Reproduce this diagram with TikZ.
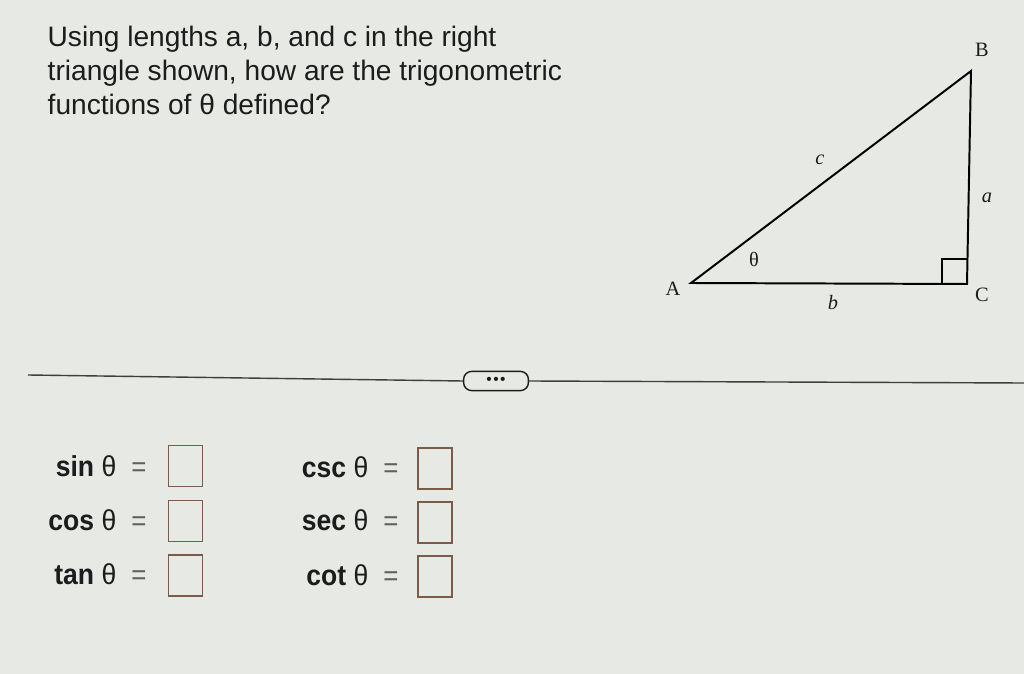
\documentclass[tikz,border=0pt]{standalone}
\usepackage{fontspec}
\usetikzlibrary{calc}
\setmainfont{Liberation Sans}
\newfontfamily\trifont{Liberation Serif}
\newfontfamily\eqfont[FakeStretch=0.92]{Liberation Sans}
\definecolor{paper}{RGB}{231,233,229}
\definecolor{ink}{RGB}{28,28,28}
\definecolor{boxline}{RGB}{122,92,72}

\tikzset{%
  every node/.style={
    inner sep=1pt, text=ink
  },
  question/.style={anchor=base west, font=\fontsize{20}{24}\selectfont},
  trilabel/.style={font=\trifont\fontsize{14.5}{17}\selectfont},
  fnlabel/.style={anchor=base east, font=\eqfont\fontsize{20.5}{24}\selectfont},
  eqsign/.style={anchor=base, font=\eqfont\fontsize{20}{24}\selectfont, text=ink!70},
  ansbox/.style={draw=boxline, line width=1pt, minimum width=0.85cm, minimum height=1.03cm},
  pill/.style={draw=ink, line width=1pt, rounded corners=0.2cm, minimum width=1.62cm,
    minimum height=0.48cm, inner sep=0pt, font=\fontsize{11}{11}\selectfont}
}

\begin{document}
\begin{tikzpicture}[x=0.025cm, y=-0.025cm]
        \fill[paper] (0,0) rectangle (1024,674);
        \useasboundingbox (0,0) rectangle (1024,674);
        % question
        \node[question] at (46,47) (q1) {Using lengths a, b, and c in the right};
        \node[question] at (46,81) (q2) {triangle shown, how are the trigonometric};
        \node[question] at (46,115) (q3) {functions of θ defined?};
        % triangle
        \coordinate (A) at (691,283);
        \coordinate (B) at (971,71);
        \coordinate (C) at (967,284);
        \draw[line width=1.4pt, line join=miter] (A) -- (C) -- (B) -- cycle;
        \draw[line width=1.1pt] ($(C)+(-25,0)$) |- ($(C)+(0,-25)$);
        \node[trilabel] at (673,289) (lA) {A};
        \node[trilabel] at (982,50) (lB) {B};
        \node[trilabel] at (982,295) (lC) {C};
        \node[trilabel] at (987,198) (la) {\itshape a};
        \node[trilabel] at (833,303) (lb) {\itshape b};
        \node[trilabel] at (820,160) (lc) {\itshape c};
        \node[trilabel] at (754,259) (lt) {θ};
        % divider
        \node[pill] at (496,381) (more) {\textbullet\hspace{1pt}\textbullet\hspace{1pt}\textbullet};
        \coordinate (l0) at (28,375);
        \coordinate (l1) at (1024,383);
        \draw[line width=1pt, ink!85] (l0) -- (more.west);
        \draw[line width=1pt, ink!85] (more.east) -- (l1);
        % left column
        \node[fnlabel] at (118,476) (f1) {\textbf{sin} θ};
        \node[fnlabel] at (118,530) (f2) {\textbf{cos} θ};
        \node[fnlabel] at (118,584) (f3) {\textbf{tan} θ};
        \node[eqsign] at (139,476) (e1) {=};
        \node[eqsign] at (139,530) (e2) {=};
        \node[eqsign] at (139,584) (e3) {=};
        \node[ansbox] at (185.5,466) (b1) {};
        \node[ansbox] at (185.5,521) (b2) {};
        \node[ansbox] at (185.5,575.5) (b3) {};
        % right column
        \node[fnlabel] at (370,477) (f4) {\textbf{csc} θ};
        \node[fnlabel] at (370,530) (f5) {\textbf{sec} θ};
        \node[fnlabel] at (370,585) (f6) {\textbf{cot} θ};
        \node[eqsign] at (391,477) (e4) {=};
        \node[eqsign] at (391,530) (e5) {=};
        \node[eqsign] at (391,585) (e6) {=};
        \node[ansbox] at (435,468.5) (b4) {};
        \node[ansbox] at (435,522.5) (b5) {};
        \node[ansbox] at (435,576.5) (b6) {};
      \end{tikzpicture}
\end{document}
